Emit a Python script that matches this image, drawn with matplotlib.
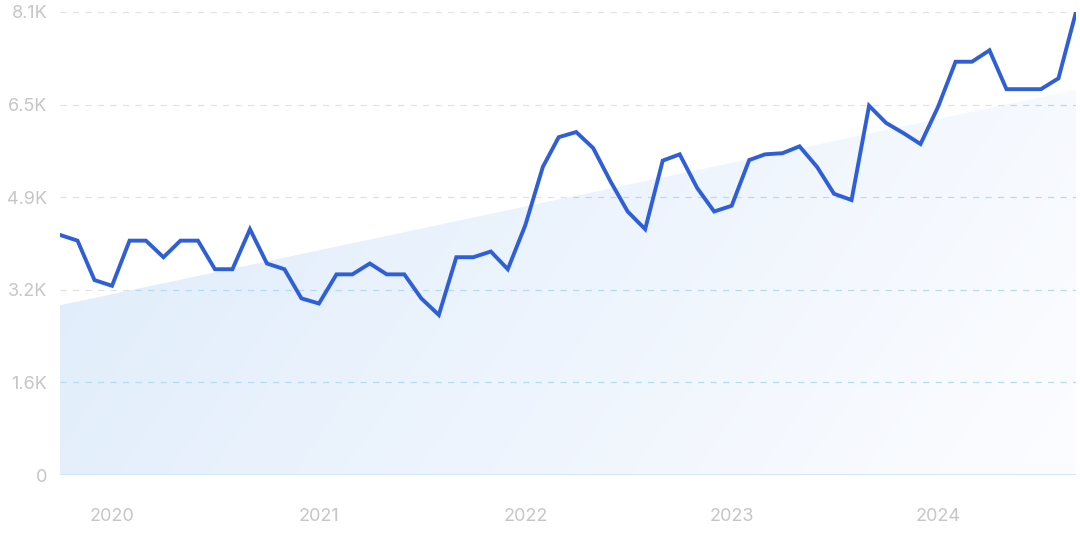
import matplotlib
matplotlib.use("Agg")
import matplotlib.pyplot as plt
import matplotlib.dates as mdates
from matplotlib.patches import Polygon
import numpy as np
import pandas as pd

plt.rcParams['font.family'] = ['Inter', 'DejaVu Sans']

# monthly values, Oct 2019 .. Sep 2024
months = pd.date_range("2019-10-01", periods=60, freq="MS")
values = [4200, 4100, 3410, 3310, 4100, 4100, 3810, 4100, 4100, 3600,
          3600, 4300, 3700, 3600, 3090, 3000, 3510, 3510, 3700, 3510,
          3510, 3090, 2800, 3810, 3810, 3910, 3600, 4370, 5390, 5910,
          6000, 5720, 5130, 4610, 4300, 5500, 5610, 5020, 4610, 4710,
          5510, 5610, 5630, 5750, 5390, 4920, 4810, 6460, 6160, 5980,
          5790, 6440, 7230, 7230, 7430, 6750, 6750, 6750, 6940, 8100]

# trend band end points
trend_start = 2970
trend_end = 6740

yticks = [0, 1620, 3240, 4860, 6480, 8100]
ytick_labels = ["0", "1.6K", "3.2K", "4.9K", "6.5K", "8.1K"]
years = ["2020", "2021", "2022", "2023", "2024"]

fig = plt.figure(figsize=(10.8, 5.4), dpi=100)
ax = fig.add_axes([60 / 1080, 65 / 540, 1016 / 1080, 463 / 540])

x0, x1 = mdates.date2num(months[0]), mdates.date2num(months[-1])
ax.set_xlim(x0, x1)
ax.set_ylim(0, 8100)

# gradient trend area
poly = Polygon([[x0, 0], [x0, trend_start], [x1, trend_end], [x1, 0]],
               closed=True, facecolor="none", edgecolor="none")
ax.add_patch(poly)
gx, gy = np.meshgrid(np.linspace(0, 1, 200), np.linspace(0, 1, 200))
t = np.clip(0.8 * gx + 0.25 * gy, 0, 1)
c0 = np.array([221, 235, 251]) / 255
c1 = np.array([251, 252, 255]) / 255
img = c0[None, None, :] * (1 - t[..., None]) + c1[None, None, :] * t[..., None]
im = ax.imshow(img, extent=[x0, x1, 0, 8100], origin="upper",
               aspect="auto", zorder=1, interpolation="bilinear")
im.set_clip_path(poly)

# grid lines: grey outside, light cyan inside the band
for yv in yticks[1:]:
    ax.axhline(yv, color="#e2e2e2", lw=0.9, ls=(0, (5, 5)), zorder=0.5)
    gl = ax.axhline(yv, color="#b5dcef", lw=0.9, ls=(0, (5, 5)), zorder=2)
    gl.set_clip_path(poly)
ax.axhline(0, color="#cfe5f5", lw=1.2, zorder=2)

ax.plot(months, values, color="#2f5fd6", lw=2.8, zorder=3,
        solid_joinstyle="miter")

ax.set_yticks(yticks)
ax.set_yticklabels(ytick_labels)
ax.set_xticks([pd.Timestamp(f"{y}-01-01") for y in years])
ax.set_xticklabels(years)
ax.tick_params(axis="both", length=0, labelsize=13, colors="#c6c6c6")
ax.tick_params(axis="y", pad=9)
ax.tick_params(axis="x", pad=24)
for s in ax.spines.values():
    s.set_visible(False)

fig.savefig("out.png", dpi=100)
